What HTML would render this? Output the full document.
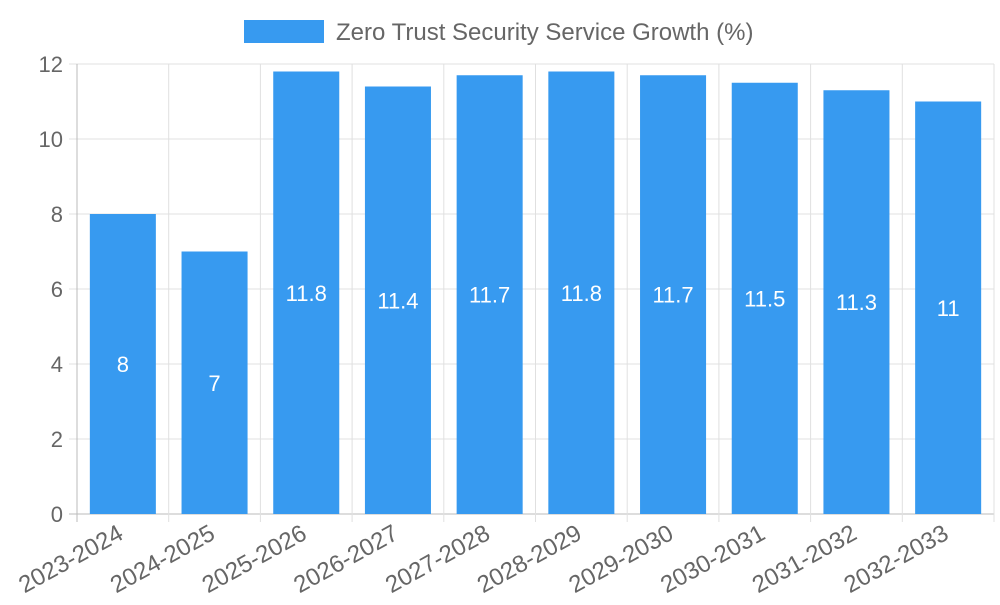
<!DOCTYPE html>
<html><head><meta charset="utf-8"><style>
body{margin:0;background:#fff;font-family:"Liberation Sans",sans-serif}
svg text{font-family:"Liberation Sans",sans-serif}
</style></head><body>
<svg id="c" width="1000" height="600">
<rect x="244" y="20" width="80" height="23" fill="#379af0"/>
<text x="336" y="40" font-size="24" fill="#666">Zero Trust Security Service Growth (%)</text>
<g id="grid"></g><g id="bars"></g><g id="labels"></g>
</svg>
<script>
const categories=["2023-2024","2024-2025","2025-2026","2026-2027","2027-2028","2028-2029","2029-2030","2030-2031","2031-2032","2032-2033"];
const values=[8,7,11.8,11.4,11.7,11.8,11.7,11.5,11.3,11];
const yTicks=[0,2,4,6,8,10,12];
const L=77,R=994,T=64,B=514,yMax=12;
const bw=(R-L)/categories.length;
const y=v=>B-(v/yMax)*(B-T);
const x=i=>L+i*bw;
const ns="http://www.w3.org/2000/svg";
function mk(tag,a,p){const e=document.createElementNS(ns,tag);for(const k in a)e.setAttribute(k,a[k]);p.appendChild(e);return e;}
const g=document.getElementById('grid'),gb=document.getElementById('bars'),gl=document.getElementById('labels');
yTicks.forEach(t=>{
 const ln=mk('line',{x1:L-8,x2:R,y1:y(t),y2:y(t),stroke:t===0?'#bbb':'#e0e0e0','stroke-width':1},g);
 
 
 const tx=mk('text',{x:L-14,y:y(t)+8,'text-anchor':'end','font-size':22,fill:'#666'},g);
 tx.textContent=t;
 
 
});
for(let i=0;i<=categories.length;i++){
 const ln=mk('line',{x1:x(i),x2:x(i),y1:T,y2:B+8,stroke:i===0?'#bbb':'#e0e0e0','stroke-width':1},g);
 
 
}
categories.forEach((c,i)=>{
 const v=values[i],w=bw*0.72,cx=x(i)+bw/2;
 const r=mk('rect',{x:cx-w/2,y:y(v),width:w,height:B-y(v),fill:'#379af0'},gb);
 
 
 const vt=mk('text',{x:cx,y:(y(v)+B)/2+8,'text-anchor':'middle','font-size':22,fill:'#fff'},gl);
 vt.textContent=v;
 
 
 const ax=cx+2,ay=B+24;
 const xt=mk('text',{x:ax,y:ay,'text-anchor':'end','font-size':24,fill:'#666',transform:`rotate(-29 ${ax} ${ay})`},gl);
 xt.textContent=c;
 
 
});
</script>
</body></html>
